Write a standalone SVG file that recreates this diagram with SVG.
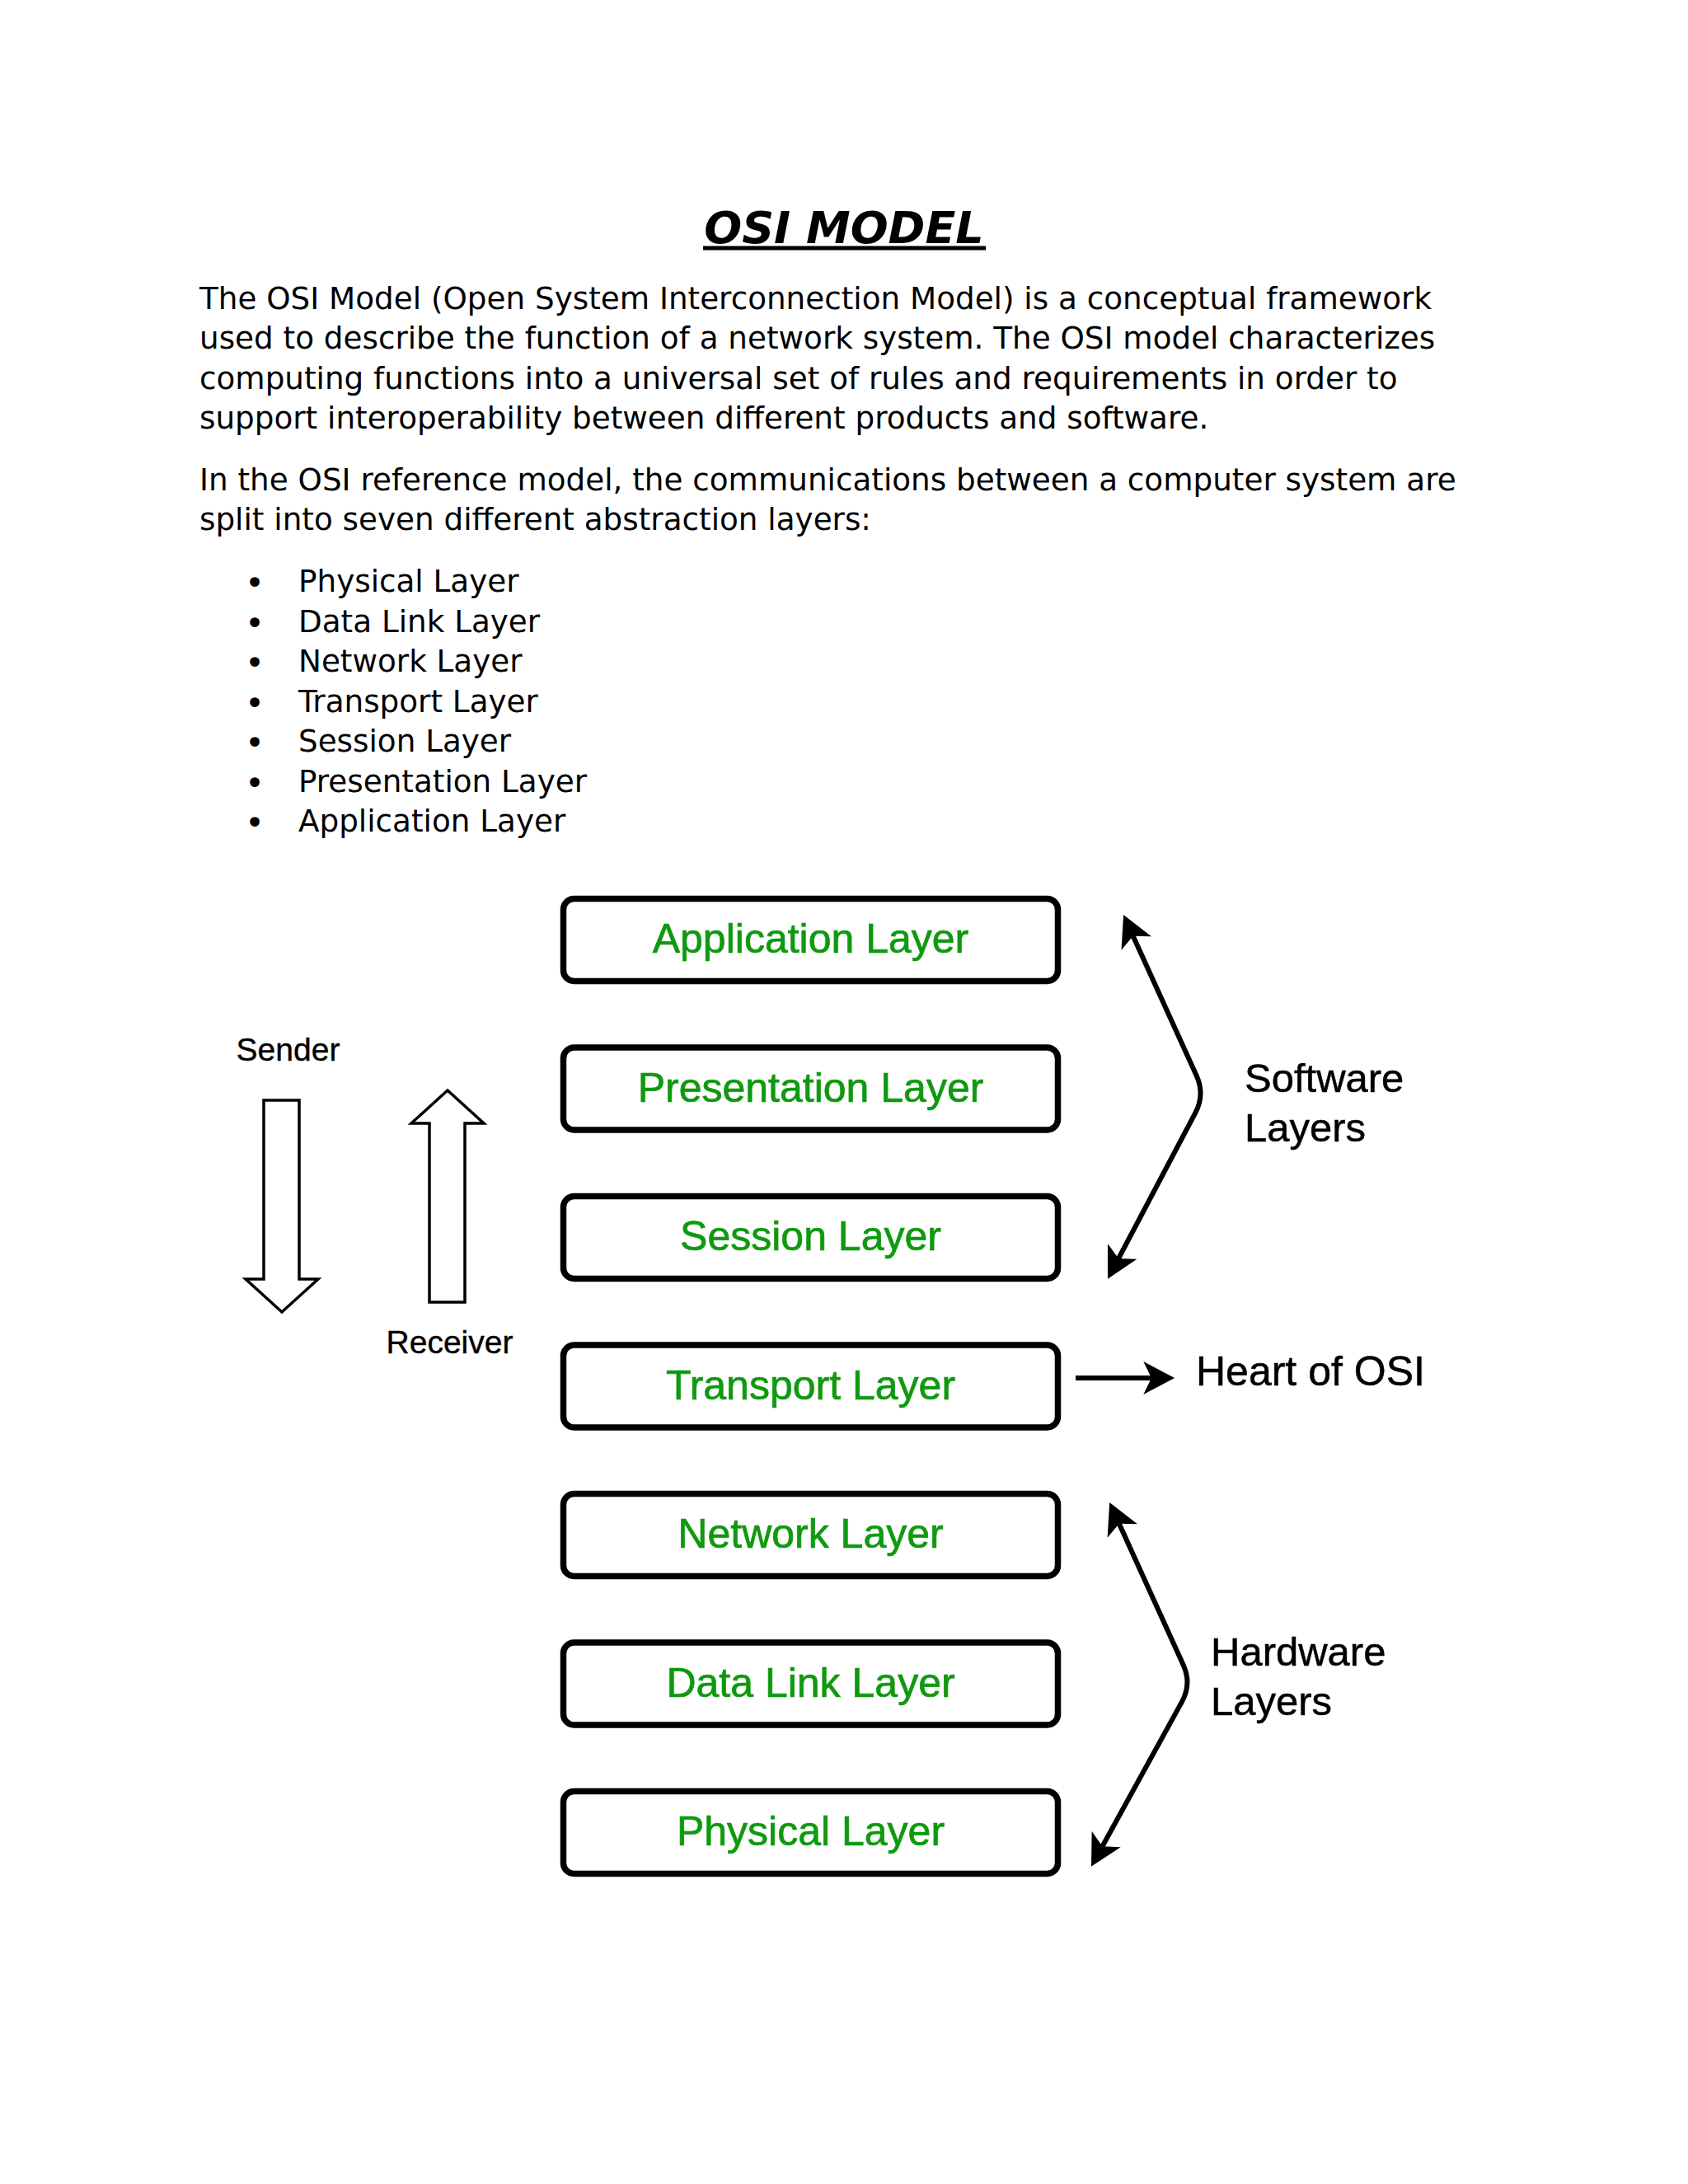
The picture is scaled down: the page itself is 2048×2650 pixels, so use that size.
<svg xmlns="http://www.w3.org/2000/svg" width="2048" height="2650" viewBox="0 0 2048 2650">
<style>
.title{font-family:"DejaVu Sans",Verdana,sans-serif;font-weight:bold;font-style:italic;font-size:54px;fill:#000}
.body{font-family:"DejaVu Sans",Verdana,sans-serif;font-size:37.3px;fill:#000}
.bullet{font-family:"DejaVu Sans",sans-serif;font-size:40px;fill:#000}
.box{fill:#fff;stroke:#000;stroke-width:7.5}
.lbl{font-family:"Liberation Sans",Arial,sans-serif;font-size:50px;fill:#0f990f;stroke:#0f990f;stroke-width:0.7;text-anchor:middle}
.side{font-family:"Liberation Sans",Arial,sans-serif;font-size:49px;fill:#000;stroke:#000;stroke-width:0.5}
.small{font-family:"Liberation Sans",Arial,sans-serif;font-size:39px;fill:#000;stroke:#000;stroke-width:0.4;text-anchor:middle}
.blk{fill:#fff;stroke:#000;stroke-width:3.5;stroke-linejoin:miter}
.conn{fill:none;stroke:#000;stroke-width:6}
</style>
<defs>
<marker id="ah" markerUnits="userSpaceOnUse" markerWidth="40" markerHeight="40" refX="9" refY="18.5" orient="auto-start-reverse" viewBox="0 0 36 37">
<path d="M0,0 L35,18.5 L0,37 L9,18.5 Z" fill="#000"/>
</marker>
</defs>
<rect width="2048" height="2650" fill="#fff"/>

<g id="title">
<text class="title" x="1024" y="295" text-anchor="middle">OSI MODEL</text>
<rect x="853" y="298.5" width="343" height="5" fill="#000"/>
</g>

<g id="intro">
<text class="body" x="242" y="375">The OSI Model (Open System Interconnection Model) is a conceptual framework</text>
<text class="body" x="242" y="423">used to describe the function of a network system. The OSI model characterizes</text>
<text class="body" x="242" y="472">computing functions into a universal set of rules and requirements in order to</text>
<text class="body" x="242" y="520">support interoperability between different products and software.</text>
<text class="body" x="242" y="595">In the OSI reference model, the communications between a computer system are</text>
<text class="body" x="242" y="643">split into seven different abstraction layers:</text>
</g>

<g id="list">
<text class="bullet" x="309" y="721" text-anchor="middle">•</text>
<text class="body" x="362" y="718">Physical Layer</text>
<text class="bullet" x="309" y="769.5" text-anchor="middle">•</text>
<text class="body" x="362" y="766.5">Data Link Layer</text>
<text class="bullet" x="309" y="818" text-anchor="middle">•</text>
<text class="body" x="362" y="815">Network Layer</text>
<text class="bullet" x="309" y="866.5" text-anchor="middle">•</text>
<text class="body" x="362" y="863.5">Transport Layer</text>
<text class="bullet" x="309" y="915" text-anchor="middle">•</text>
<text class="body" x="362" y="912">Session Layer</text>
<text class="bullet" x="309" y="963.5" text-anchor="middle">•</text>
<text class="body" x="362" y="960.5">Presentation Layer</text>
<text class="bullet" x="309" y="1012" text-anchor="middle">•</text>
<text class="body" x="362" y="1009">Application Layer</text>
</g>

<g id="application">
<rect class="box" x="683.5" y="1090.5" width="600" height="100" rx="13"/>
<text class="lbl" x="983.5" y="1156">Application Layer</text>
</g>
<g id="presentation">
<rect class="box" x="683.5" y="1271" width="600" height="100" rx="13"/>
<text class="lbl" x="983.5" y="1336.5">Presentation Layer</text>
</g>
<g id="session">
<rect class="box" x="683.5" y="1451.5" width="600" height="100" rx="13"/>
<text class="lbl" x="983.5" y="1517">Session Layer</text>
</g>
<g id="transport">
<rect class="box" x="683.5" y="1632" width="600" height="100" rx="13"/>
<text class="lbl" x="983.5" y="1697.5">Transport Layer</text>
</g>
<g id="network">
<rect class="box" x="683.5" y="1812.5" width="600" height="100" rx="13"/>
<text class="lbl" x="983.5" y="1878">Network Layer</text>
</g>
<g id="datalink">
<rect class="box" x="683.5" y="1993" width="600" height="100" rx="13"/>
<text class="lbl" x="983.5" y="2058.5">Data Link Layer</text>
</g>
<g id="physical">
<rect class="box" x="683.5" y="2173.5" width="600" height="100" rx="13"/>
<text class="lbl" x="983.5" y="2239">Physical Layer</text>
</g>

<g id="sender">
<text class="small" x="349.5" y="1287">Sender</text>
<polygon class="blk" points="320,1335 363,1335 363,1552 386,1552 342,1592 298,1552 320,1552"/>
</g>
<g id="receiver">
<polygon class="blk" points="543,1323 587,1363 564,1363 564,1580 521,1580 521,1363 499,1363"/>
<text class="small" x="545.5" y="1642">Receiver</text>
</g>

<g id="software-label">
<text class="side" x="1510" y="1325">Software</text>
<text class="side" x="1510" y="1385">Layers</text>
</g>
<g id="heart-label">
<text class="side" x="1451" y="1681" style="font-size:50px">Heart of OSI</text>
</g>
<g id="hardware-label">
<text class="side" x="1469" y="2021">Hardware</text>
<text class="side" x="1469" y="2081">Layers</text>
</g>

<g id="connectors">
<path class="conn" d="M1374.7,1135.7 L1451.7,1305.2 Q1462,1328 1450.4,1350.1 L1357.1,1527" marker-start="url(#ah)" marker-end="url(#ah)"/>
<path class="conn" d="M1305,1672 L1397,1672" marker-end="url(#ah)"/>
<path class="conn" d="M1357.8,1848.7 L1435.7,2020.2 Q1446,2043 1434,2064.9 L1337.5,2240.2" marker-start="url(#ah)" marker-end="url(#ah)"/>
</g>
</svg>
